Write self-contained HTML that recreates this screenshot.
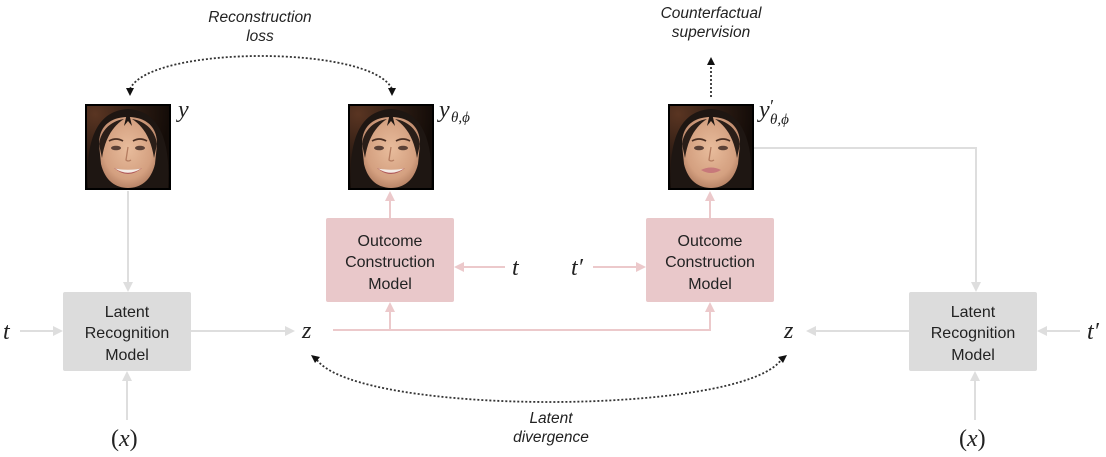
<!DOCTYPE html>
<html>
<head>
<meta charset="utf-8">
<style>
  html,body{margin:0;padding:0;background:#fff;}
  body{width:1106px;height:457px;overflow:hidden;position:relative;}
  svg{position:absolute;left:0;top:0;}
  .box{font-family:"Liberation Sans",sans-serif;font-size:16px;fill:#222;}
  .lbl{font-family:"Liberation Sans",sans-serif;font-style:italic;font-size:15.5px;fill:#222;}
  .m{font-family:"Liberation Serif",serif;font-style:italic;font-size:24px;fill:#222;}
  .ms{font-family:"Liberation Serif",serif;font-style:italic;font-size:15px;fill:#222;}
  .mr{font-family:"Liberation Serif",serif;font-size:24px;fill:#222;}
</style>
</head>
<body>
<svg width="1106" height="457" viewBox="0 0 1106 457" xmlns="http://www.w3.org/2000/svg">
  <defs>
    <radialGradient id="skin" cx="50%" cy="45%" r="60%">
      <stop offset="0" stop-color="#e8bc9c"/>
      <stop offset="0.7" stop-color="#d4a080"/>
      <stop offset="1" stop-color="#ae7a5e"/>
    </radialGradient>
    <radialGradient id="bg" cx="10%" cy="10%" r="90%">
      <stop offset="0" stop-color="#5a3522"/>
      <stop offset="0.6" stop-color="#2a1a12"/>
      <stop offset="1" stop-color="#140c08"/>
    </radialGradient>
    <g id="facebase">
      <rect x="0" y="0" width="86" height="86" fill="#000"/>
      <rect x="2" y="2" width="82" height="82" fill="url(#bg)"/>
      <path d="M3 84 C1 50 5 7 43 5 C81 7 85 50 83 84 Z" fill="#1e1612"/>
      <path d="M14 40 C14 20 28 13 43 13 C58 13 72 20 72 40 L70 60 C66 77 55 84 43 84 C31 84 20 77 16 60 Z" fill="url(#skin)"/>
      <path d="M43 5 L39 22 L43 17 L47 22 Z" fill="#1e1612"/>
      <path d="M14 40 C16 26 26 17 39 15 C28 22 20 34 17 54 Z" fill="#2a1e18"/>
      <path d="M72 40 C70 26 60 17 47 15 C58 22 66 34 69 54 Z" fill="#2a1e18"/>
      <path d="M24 37 Q31 33 38 37" stroke="#4a2e22" stroke-width="1.8" fill="none"/>
      <path d="M48 37 Q55 33 62 37" stroke="#4a2e22" stroke-width="1.8" fill="none"/>
      <ellipse cx="31" cy="44" rx="5" ry="2.3" fill="#5a4036"/>
      <ellipse cx="55" cy="44" rx="5" ry="2.3" fill="#5a4036"/>
      <path d="M43 43 L41 56 Q43 58 46 56" stroke="#b47c60" stroke-width="1.3" fill="none"/>
    </g>
  </defs>

  <!-- Faces -->
  <g transform="translate(85,104)">
    <use href="#facebase"/>
    <path d="M29 64 Q43 76 57 64 Q43 68 29 64 Z" fill="#b05a5a"/>
    <path d="M30 64.5 Q43 73 56 64.5 Q43 67 30 64.5 Z" fill="#f4ece6"/>
  </g>
  <g transform="translate(348,104)">
    <use href="#facebase"/>
    <path d="M29 64 Q43 76 57 64 Q43 68 29 64 Z" fill="#b05a5a"/>
    <path d="M30 64.5 Q43 73 56 64.5 Q43 67 30 64.5 Z" fill="#f4ece6"/>
  </g>
  <g transform="translate(668,104)">
    <use href="#facebase"/>
    <path d="M33 66 Q43 61 53 66 Q43 72 33 66 Z" fill="#c7787a"/>
  </g>

  <!-- Boxes -->
  <rect x="63" y="292" width="128" height="79" rx="2" fill="#dcdcdc"/>
  <rect x="909" y="292" width="128" height="79" rx="2" fill="#dcdcdc"/>
  <rect x="326" y="218" width="128" height="84" rx="2" fill="#e9c8ca"/>
  <rect x="646" y="218" width="128" height="84" rx="2" fill="#e9c8ca"/>

  <text class="box" text-anchor="middle" x="127" y="317">Latent</text>
  <text class="box" text-anchor="middle" x="127" y="338">Recognition</text>
  <text class="box" text-anchor="middle" x="127" y="360">Model</text>
  <text class="box" text-anchor="middle" x="973" y="317">Latent</text>
  <text class="box" text-anchor="middle" x="973" y="338">Recognition</text>
  <text class="box" text-anchor="middle" x="973" y="360">Model</text>
  <text class="box" text-anchor="middle" x="390" y="246">Outcome</text>
  <text class="box" text-anchor="middle" x="390" y="267">Construction</text>
  <text class="box" text-anchor="middle" x="390" y="289">Model</text>
  <text class="box" text-anchor="middle" x="710" y="246">Outcome</text>
  <text class="box" text-anchor="middle" x="710" y="267">Construction</text>
  <text class="box" text-anchor="middle" x="710" y="289">Model</text>

  <!-- Gray connectors -->
  <g stroke="#dedede" stroke-width="2" fill="none">
    <line x1="128" y1="191" x2="128" y2="283"/>
    <line x1="20" y1="331" x2="54" y2="331"/>
    <line x1="191" y1="331" x2="286" y2="331"/>
    <line x1="127" y1="420" x2="127" y2="380"/>
    <polyline points="754,148 976,148 976,283"/>
    <line x1="909" y1="331" x2="815" y2="331"/>
    <line x1="1080" y1="331" x2="1046" y2="331"/>
    <line x1="975" y1="420" x2="975" y2="380"/>
  </g>
  <g fill="#dedede">
    <polygon points="123,282 133,282 128,292"/>
    <polygon points="53,326 53,336 63,331"/>
    <polygon points="285,326 285,336 295,331"/>
    <polygon points="122,381 132,381 127,371"/>
    <polygon points="971,282 981,282 976,292"/>
    <polygon points="816,326 816,336 806,331"/>
    <polygon points="1047,326 1047,336 1037,331"/>
    <polygon points="970,381 980,381 975,371"/>
  </g>

  <!-- Pink connectors -->
  <g stroke="#ecc9cb" stroke-width="2" fill="none">
    <polyline points="333,330 710,330 710,311"/>
    <line x1="390" y1="330" x2="390" y2="311"/>
    <line x1="390" y1="218" x2="390" y2="200"/>
    <line x1="710" y1="218" x2="710" y2="200"/>
    <line x1="505" y1="267" x2="463" y2="267"/>
    <line x1="593" y1="267" x2="637" y2="267"/>
  </g>
  <g fill="#ecc9cb">
    <polygon points="385,312 395,312 390,302"/>
    <polygon points="705,312 715,312 710,302"/>
    <polygon points="385,201 395,201 390,191"/>
    <polygon points="705,201 715,201 710,191"/>
    <polygon points="464,262 464,272 454,267"/>
    <polygon points="636,262 636,272 646,267"/>
  </g>

  <!-- Dotted connectors -->
  <g stroke="#333" stroke-width="1.8" fill="none" stroke-dasharray="2,2">
    <path d="M130 89 C150 45 372 45 392 89"/>
    <line x1="711" y1="97" x2="711" y2="64"/>
    <path d="M317 360 C360 416 740 416 781 360"/>
  </g>
  <g fill="#111">
    <polygon points="126,88 134,88 130,96"/>
    <polygon points="388,88 396,88 392,96"/>
    <polygon points="707,65 715,65 711,57"/>
    <polygon points="311,355 320,357 315,363"/>
    <polygon points="787,355 778,357 783,363"/>
  </g>

  <!-- Italic labels -->
  <text class="lbl" text-anchor="middle" x="260" y="22">Reconstruction</text>
  <text class="lbl" text-anchor="middle" x="260" y="41">loss</text>
  <text class="lbl" text-anchor="middle" x="711" y="18">Counterfactual</text>
  <text class="lbl" text-anchor="middle" x="711" y="37">supervision</text>
  <text class="lbl" text-anchor="middle" x="551" y="423">Latent</text>
  <text class="lbl" text-anchor="middle" x="551" y="442">divergence</text>

  <!-- Math labels -->
  <text class="m" x="178" y="117">y</text>
  <text class="m" x="439" y="117">y</text>
  <text class="ms" x="451" y="122">θ,ϕ</text>
  <text class="m" x="759" y="117">y</text>
  <text class="m" x="769" y="112" style="font-size:18px">′</text>
  <text class="ms" x="770" y="124">θ,ϕ</text>
  <text class="m" x="3" y="339">t</text>
  <text class="m" x="302" y="338">z</text>
  <text class="m" x="512" y="275">t</text>
  <text class="m" x="571" y="275">t′</text>
  <text class="m" x="784" y="338">z</text>
  <text class="m" x="1087" y="339">t′</text>
  <text class="mr" x="111" y="446">(<tspan font-style="italic">x</tspan>)</text>
  <text class="mr" x="959" y="446">(<tspan font-style="italic">x</tspan>)</text>
</svg>
</body>
</html>
